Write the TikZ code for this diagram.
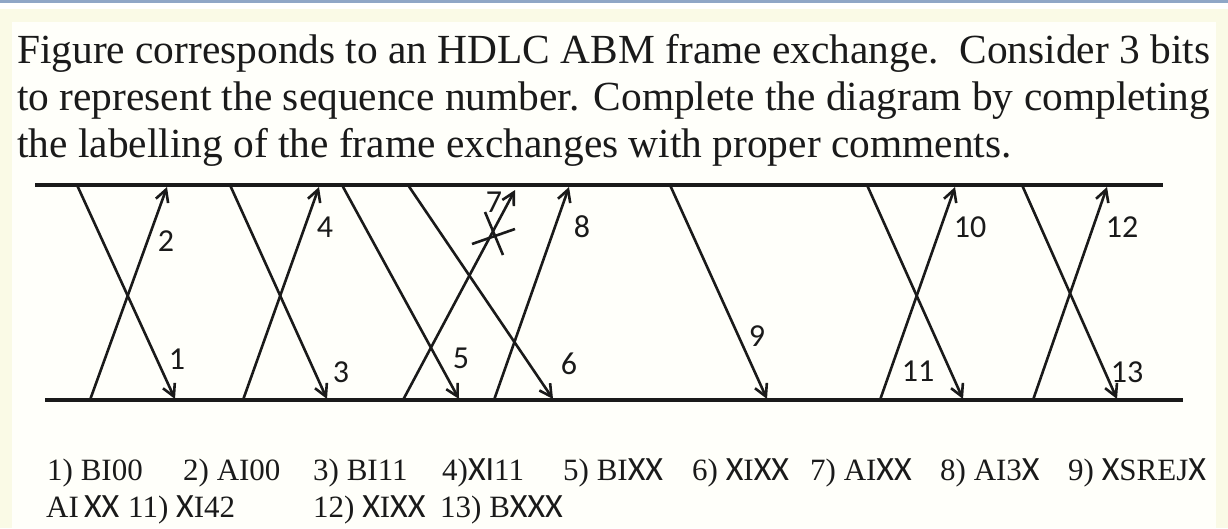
\documentclass[tikz,border=0pt]{standalone}
\usepackage{fontspec}
\setmainfont{Liberation Serif}
\newfontfamily\lblfont{Carlito}
\usetikzlibrary{arrows.meta}
\definecolor{bgcream}{HTML}{FAFAE6}
\definecolor{bgpane}{HTML}{FFFFFA}
\definecolor{topbar}{HTML}{8FA6C6}
\definecolor{ink}{HTML}{1A1A1A}
\newcommand{\sx}{{\lblfont\fontsize{34}{37}\selectfont X}}
\newcommand{\si}{{\lblfont\fontsize{34}{37}\selectfont I}}
\begin{document}
\begin{tikzpicture}[x=1pt,y=-1pt,
  rail/.style={ink,line width=3.2pt},
  msg/.style={ink,line width=2.6pt,-{Straight Barb[length=12pt,width=13pt]}},
  lbl/.style={font=\lblfont\fontsize{32}{32}\selectfont,text=ink,inner sep=0pt},
  ttl/.style={font=\fontsize{41.4}{47}\selectfont,text=ink,anchor=base west,inner sep=0pt},
  ans/.style={font=\fontsize{31}{37}\selectfont,text=ink,anchor=base west,inner sep=0pt}]
\useasboundingbox (0,0) rectangle (1228,528);
\fill[bgcream] (0,0) rectangle (1228,528);
\fill[bgpane] (12,22) rectangle (1216,528);
\fill[white] (0,2) rectangle (1228,9);
\fill[topbar] (0,0) rectangle (1228,2.5);
% title
\node[ttl] (h1) at (17,63) {\makebox[1193pt][s]{Figure corresponds to an HDLC ABM frame exchange.\ \ Consider 3 bits}};
\node[ttl] (h2) at (17,110) {\makebox[1193pt][s]{to represent the sequence number. Complete the diagram by completing}};
\node[ttl] (h3) at (17,157) {the labelling of the frame exchanges with proper comments.};
% rails
\coordinate (TL) at (35,185); \coordinate (TR) at (1163,185);
\coordinate (BL) at (45,400); \coordinate (BR) at (1183,400);
\draw[rail] (TL) -- (TR);
\draw[rail] (BL) -- (BR);
% frames
\coordinate (s1) at (77,185);  \coordinate (e1) at (175,399);
\coordinate (s2) at (90,400);  \coordinate (e2) at (167,187);
\coordinate (s3) at (230,185); \coordinate (e3) at (327,399);
\coordinate (s4) at (243,400); \coordinate (e4) at (319,187);
\coordinate (s5) at (342,185); \coordinate (e5) at (459,399);
\coordinate (s6) at (408,185); \coordinate (e6) at (553,399);
\coordinate (s7) at (403,400); \coordinate (e7) at (515,190);
\coordinate (s8) at (494,400); \coordinate (e8) at (569,187);
\coordinate (s9) at (670,185); \coordinate (e9) at (767,399);
\coordinate (s10) at (880,400); \coordinate (e10) at (955,187);
\coordinate (s11) at (867,185); \coordinate (e11) at (963,399);
\coordinate (s12) at (1033,400); \coordinate (e12) at (1107,187);
\coordinate (s13) at (1022,185); \coordinate (e13) at (1117,399);
\foreach \i in {1,...,13} {\draw[msg] (s\i) -- (e\i);}
% lost frame mark
\coordinate (xa1) at (472,244); \coordinate (xa2) at (515,229);
\coordinate (xb1) at (485,212); \coordinate (xb2) at (503,255);
\draw[ink,line width=2.6pt] (xa1) -- (xa2);
\draw[ink,line width=2.6pt] (xb1) -- (xb2);
% labels
\node[lbl] (l1) at (177,359) {1};
\node[lbl] (l2) at (166,241) {2};
\node[lbl] (l3) at (341,372) {3};
\node[lbl] (l4) at (325,227) {4};
\node[lbl] (l5) at (461,358) {5};
\node[lbl] (l6) at (569,364) {6};
\node[lbl] (l7) at (494,202) {7};
\node[lbl] (l8) at (582,227) {8};
\node[lbl] (l9) at (757,336) {9};
\node[lbl] (l10) at (970,227) {10};
\node[lbl] (l11) at (918,371) {11};
\node[lbl] (l12) at (1122,227) {12};
\node[lbl] (l13) at (1127,372) {13};
% answers
\node[ans] (r1) at (47,480) {1) BI00};
\node[ans] (r2) at (183,480) {2) AI00};
\node[ans] (r3) at (313,480) {3) BI11};
\node[ans] (r4) at (442,480) {4)\sx\si11};
\node[ans] (r5) at (563,480) {5) BI\sx\sx};
\node[ans] (r6) at (692,480) {6) \sx I\sx\sx};
\node[ans] (r7) at (810,480) {7) AI\sx\sx};
\node[ans] (r8) at (940,480) {8) AI3\sx};
\node[ans] (r9) at (1068,480) {9) \sx SREJ\sx};
\node[ans] (r10) at (46,517) {AI\,\sx\sx};
\node[ans] (r11) at (128,517) {11) \sx I42};
\node[ans] (r12) at (313,517) {12) \sx I\sx\sx};
\node[ans] (r13) at (440,517) {13) B\sx\sx\sx};
\end{tikzpicture}
\end{document}
